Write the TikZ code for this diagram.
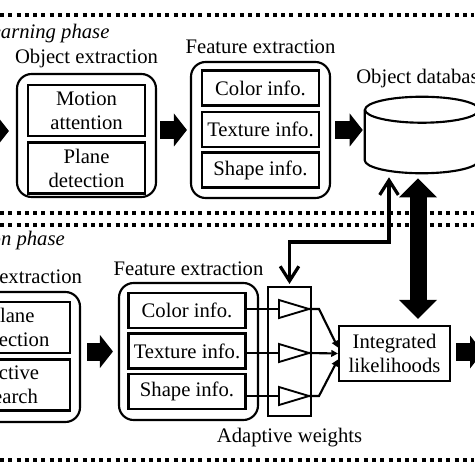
\documentclass[tikz,border=0pt]{standalone}
\usepackage{fontspec}
\setmainfont{Liberation Serif}
\usetikzlibrary{positioning}
\usetikzlibrary{arrows.meta}

\tikzset{
  phaseline/.style={line width=3pt,dash pattern=on 3pt off 3.2pt},
  phaselabel/.style={font=\fontsize{15.5}{18}\selectfont\itshape,inner sep=0pt},
  grp/.style={draw,line width=1.6pt,rounded corners=11pt,minimum width=104.25pt},
  inbox/.style={draw,line width=2.1pt,minimum width=87.75pt,minimum height=26.25pt,align=center,inner sep=1pt},
  grplabel/.style={inner sep=0pt,text depth=0pt},
  wbox/.style={draw,line width=1.6pt,minimum width=32.25pt,minimum height=96.75pt},
  ibox/.style={draw,line width=1.6pt,minimum width=83.25pt,minimum height=41.25pt,align=center,inner sep=1pt},
  dbline/.style={line width=1.6pt},
  amp/.style={line width=1.4pt,line join=miter},
  sigline/.style={line width=1.6pt},
  sigarr/.style={line width=1.6pt,-{Triangle[length=5pt,width=5pt]}},
  blockarr/.style={line width=13.5pt,-{Triangle[length=9.75pt,width=24.75pt,line width=0pt]}},
  dblarr/.style={line width=12.75pt,{Triangle[length=14.25pt,width=28.5pt,line width=0pt]}-{Triangle[length=14.25pt,width=28.5pt,line width=0pt]}},
  linkarr/.style={line width=2.4pt,{Straight Barb[length=11pt,width=14pt]}-{Straight Barb[length=11pt,width=14pt]}},
}

\begin{document}
\begin{tikzpicture}[x=0.75pt,y=-0.75pt,every node/.style={font=\fontsize{15.5}{18}\selectfont}]
\useasboundingbox (0,0) rectangle (474,474);

\draw[phaseline] (0,15) -- (474,15);
\draw[phaseline] (0,213) -- (474,213);
\draw[phaseline] (0,225) -- (474,225);
\draw[phaseline] (0,460) -- (474,460);

\node[phaselabel,anchor=base west] (learn) at (-20,38.5) {Learning phase};
\node[phaselabel,anchor=base east] (recog) at (65,245) {Recognition phase};

\node[grp,minimum height=92.25pt] (objL) at (86.5,135.5) {};
\node[inbox,minimum height=38.25pt] (motL) at (86.5,110.5) {Motion\\attention};
\node[inbox,minimum height=38.25pt] (plnL) at (86.5,168) {Plane\\detection};
\node[grplabel,above=6.5pt of objL] (objLtxt) {Object extraction};

\node[grp,minimum height=102pt] (featL) at (260.5,130) {};
\node[inbox] (colL) at (260.5,88) {Color info.};
\node[inbox] (texL) at (260.5,129.5) {Texture info.};
\node[inbox] (shpL) at (260.5,170) {Shape info.};
\node[grplabel,above=5.25pt of featL] (featLtxt) {Feature extraction};

\node[minimum width=85.5pt,minimum height=57pt,inner sep=0pt] (db) at (422,135) {};
\draw[dbline] ([yshift=-9.75pt]db.north west) -- ([yshift=9.75pt]db.south west)
  arc[start angle=180,end angle=360,x radius=42.75pt,y radius=9.75pt] -- ([yshift=-9.75pt]db.north east);
\draw[dbline] ([yshift=-9.75pt]db.north) ellipse [x radius=42.75pt,y radius=9.75pt];
\node[grplabel,above=9.5pt of db] (dbtxt) {Object database};

\coordinate (inL) at (-30,131);
\draw[blockarr,shorten >=5.25pt] (inL) -- (objL.west |- inL);
\draw[blockarr,shorten <=2.25pt,shorten >=2.25pt] (objL.east |- featL) -- (featL.west);
\draw[blockarr,shorten <=3pt,shorten >=1.5pt] (featL.east) -- (featL.east -| db.west);

\node[grp,minimum height=97.5pt] (objR) at (10.5,357) {};
\node[inbox,minimum height=38.25pt] (plnR) at (11.5,327.5) {Plane\\detection};
\node[inbox,minimum height=38.25pt] (actR) at (11.5,385) {Active\\search};
\node[grplabel,above=5.25pt of objR] (objRtxt) {Object extraction};

\node[grp,minimum height=102.75pt] (featR) at (188.5,351.5) {};
\node[inbox] (colR) at (187,310.5) {Color info.};
\node[inbox] (texR) at (187,351) {Texture info.};
\node[inbox] (shpR) at (187,391.5) {Shape info.};
\node[grplabel,above=4.5pt of featR] (featRtxt) {Feature extraction};

\draw[blockarr,shorten <=4.5pt,shorten >=3.75pt] (objR.east |- featR) -- (featR.west);

\node[wbox] (wts) at (289.5,351.5) {};
\node[grplabel,below=8pt of wts] (wtstxt) {Adaptive weights};

\foreach \y/\n in {309/1,353/2,396/3}{
  \draw[amp] (279,\y-9) -- (309,\y) -- (279,\y+9) -- cycle;
  \coordinate (a\n) at (279,\y);
  \coordinate (b\n) at (309,\y);
}

\node[ibox] (intg) at (394.5,353.5) {Integrated\\likelihoods};

\draw[sigline] (colR.east |- a1) -- (a1);
\draw[sigline] (texR.east |- a2) -- (a2);
\draw[sigline] (shpR.east |- a3) -- (a3);
\draw[sigarr] (b1) -- ++(10,0) -- ([yshift=4.5pt]intg.west);
\draw[sigarr] (b2) -- (intg.west);
\draw[sigarr] (b3) -- ++(10,0) -- ([yshift=-4.5pt]intg.west);

\coordinate (outR) at (483,352);
\draw[blockarr,shorten <=3.75pt] (intg.east |- outR) -- (outR);

\draw[linkarr,shorten <=1.5pt,shorten >=3pt] (wts.north) -- ++(0,-44) -| ([xshift=-24.75pt]db.south);
\draw[dblarr,shorten <=3.75pt,shorten >=4.5pt] ([xshift=-3pt]db.south) -- ([xshift=-3pt]db.south |- intg.north);

\end{tikzpicture}
\end{document}
